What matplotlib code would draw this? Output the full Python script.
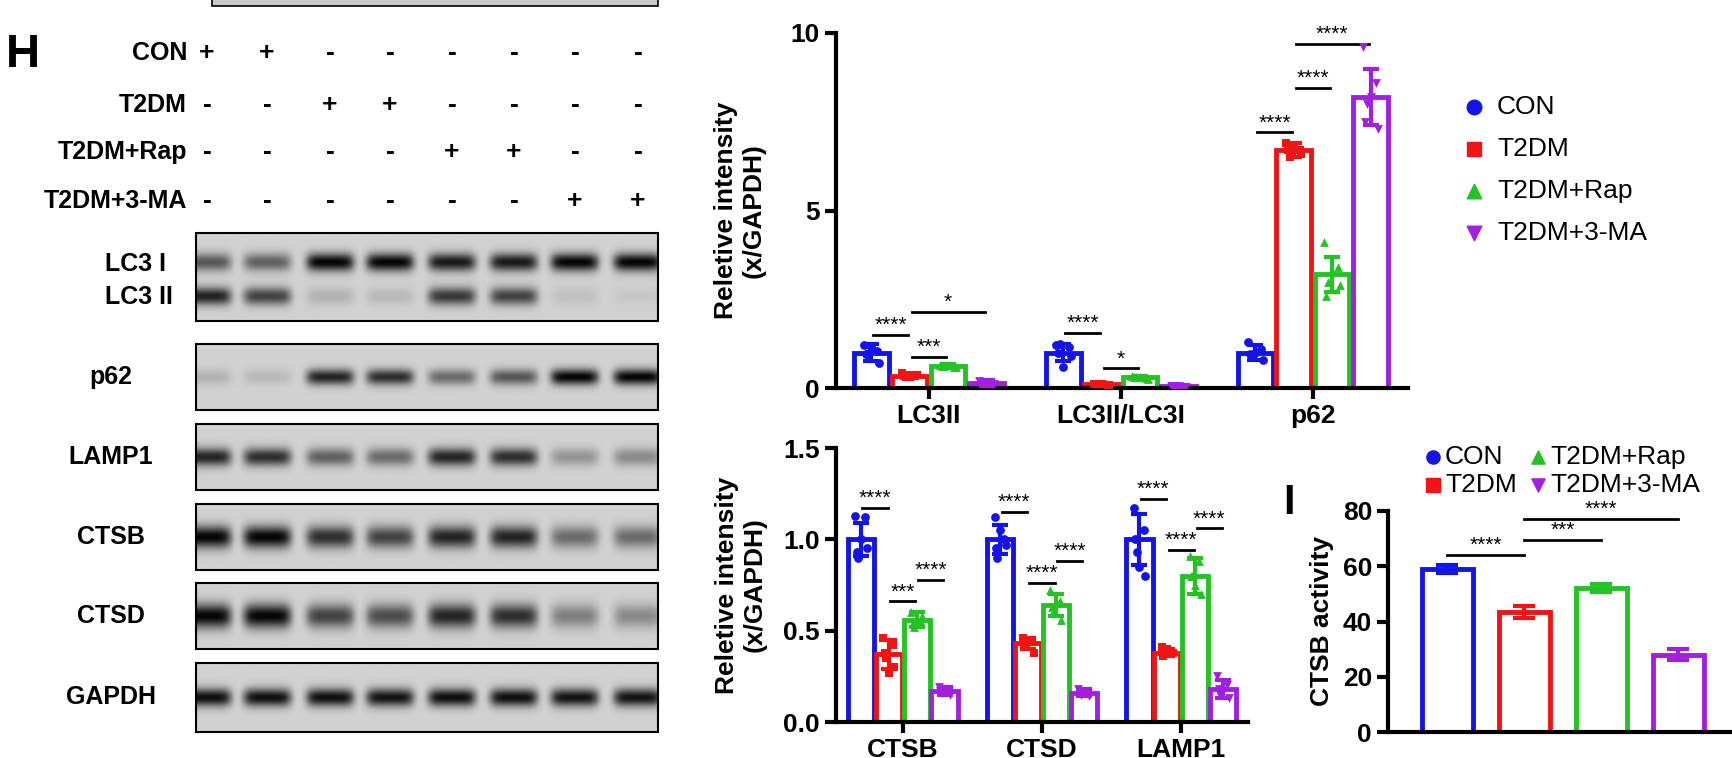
import numpy as np
import matplotlib
matplotlib.use("Agg")
import matplotlib.pyplot as plt
from matplotlib.patches import Rectangle

plt.rcParams['font.family'] = ['Liberation Sans', 'DejaVu Sans']
plt.rcParams['font.weight'] = 'bold'

groups = ['CON', 'T2DM', 'T2DM+Rap', 'T2DM+3-MA']
colors = ['#1414e6', '#f01414', '#22c322', '#a21fe0']
markers = ['o', 's', '^', 'v']

# panel H, top chart
top_cats = ['LC3II', 'LC3II/LC3I', 'p62']
top_mean = [[1.0, 0.35, 0.62, 0.15],
            [1.0, 0.10, 0.30, 0.05],
            [1.0, 6.70, 3.20, 8.20]]
top_err = [[0.25, 0.08, 0.05, 0.08],
           [0.25, 0.03, 0.05, 0.03],
           [0.22, 0.20, 0.50, 0.80]]
top_pts = [[[1.2, 1.05, 0.95, 0.7, 1.15, 0.95], [0.42, 0.35, 0.3, 0.38, 0.3, 0.33],
            [0.66, 0.6, 0.62, 0.58, 0.64, 0.63], [0.2, 0.12, 0.15, 0.1, 0.18, 0.14]],
           [[1.2, 1.15, 1.25, 0.9, 0.6, 1.0], [0.12, 0.09, 0.1, 0.08, 0.11, 0.1],
            [0.35, 0.28, 0.3, 0.25, 0.32, 0.3], [0.06, 0.04, 0.05, 0.03, 0.06, 0.05]],
           [[1.3, 1.1, 0.9, 0.8, 1.0, 0.95], [6.9, 6.7, 6.5, 6.6, 6.8, 6.7],
            [4.1, 3.4, 3.0, 2.9, 3.3, 2.6], [9.6, 8.6, 8.0, 7.3, 8.2, 7.5]]]
top_sig = [(0, 0, 1, 1.5, '****'), (0, 1, 2, 0.88, '***'), (0, 1, 3, 2.14, '*'),
           (1, 0, 1, 1.55, '****'), (1, 1, 2, 0.55, '*'),
           (2, 0, 1, 7.2, '****'), (2, 1, 2, 8.45, '****'), (2, 1, 3, 9.7, '****')]

# panel H, bottom chart
bot_cats = ['CTSB', 'CTSD', 'LAMP1']
bot_mean = [[1.0, 0.37, 0.56, 0.17],
            [1.0, 0.43, 0.64, 0.16],
            [1.0, 0.38, 0.80, 0.18]]
bot_err = [[0.09, 0.08, 0.04, 0.02],
           [0.08, 0.03, 0.06, 0.02],
           [0.14, 0.02, 0.10, 0.05]]
bot_pts = [[[1.13, 1.12, 0.9, 0.95, 1.0, 0.93], [0.46, 0.42, 0.35, 0.3, 0.27, 0.38],
            [0.6, 0.55, 0.52, 0.58, 0.56, 0.54], [0.19, 0.17, 0.16, 0.15, 0.18, 0.17]],
           [[1.12, 1.0, 0.9, 0.97, 1.05, 0.95], [0.46, 0.44, 0.42, 0.38, 0.45, 0.43],
            [0.72, 0.66, 0.6, 0.56, 0.65, 0.63], [0.18, 0.16, 0.15, 0.14, 0.17, 0.16]],
           [[1.17, 1.05, 0.93, 0.8, 0.85, 1.0], [0.41, 0.39, 0.37, 0.38, 0.4, 0.36],
            [0.91, 0.88, 0.8, 0.7, 0.75, 0.8], [0.25, 0.2, 0.15, 0.13, 0.17, 0.18]]]
bot_sig = [(0, 0, 1, 1.17, '****'), (0, 1, 2, 0.66, '***'), (0, 2, 3, 0.78, '****'),
           (1, 0, 1, 1.15, '****'), (1, 1, 2, 0.76, '****'), (1, 2, 3, 0.88, '****'),
           (2, 0, 1, 1.22, '****'), (2, 1, 2, 0.94, '****'), (2, 2, 3, 1.06, '****')]

# panel I
act_mean = [59.0, 43.5, 52.0, 28.0]
act_err = [1.5, 2.2, 1.5, 2.0]
act_sig = [(0, 1, 64, '****'), (1, 2, 69.5, '***'), (1, 3, 77, '****')]

# blot: treatment signs and band darkness per lane
sign_rows = ['CON', 'T2DM', 'T2DM+Rap', 'T2DM+3-MA']
signs = [['+', '+', '-', '-', '-', '-', '-', '-'],
         ['-', '-', '+', '+', '-', '-', '-', '-'],
         ['-', '-', '-', '-', '+', '+', '-', '-'],
         ['-', '-', '-', '-', '-', '-', '+', '+']]
lc3i = [0.6, 0.55, 1.0, 1.0, 0.9, 0.9, 1.0, 1.0]
lc3ii = [0.85, 0.7, 0.15, 0.12, 0.75, 0.7, 0.08, 0.05]
p62 = [0.15, 0.12, 0.85, 0.8, 0.5, 0.6, 1.0, 1.0]
lamp1 = [0.85, 0.8, 0.55, 0.5, 0.85, 0.8, 0.3, 0.35]
ctsb = [1.0, 1.0, 0.8, 0.7, 0.85, 0.85, 0.5, 0.5]
ctsd = [1.0, 1.0, 0.7, 0.65, 0.85, 0.8, 0.4, 0.35]
gapdh = [0.95, 0.95, 0.95, 0.93, 0.95, 0.95, 0.93, 0.93]

W, H = 1732, 758
fig = plt.figure(figsize=(W / 100, H / 100), dpi=100)

# ---- left blot panel drawn in pixel coordinates
axl = fig.add_axes([0, 0, 1, 1])
axl.set_xlim(0, W)
axl.set_ylim(H, 0)
axl.axis('off')

axl.add_patch(Rectangle((212, -4), 446, 10, facecolor='#c8c8c8', edgecolor='k', lw=1.2))
axl.text(6, 55, 'H', fontsize=34, fontweight='bold', va='center')
lane_x = [207, 267, 330, 390, 452, 514, 575, 638]
row_y = [53, 105, 152, 201]
for name, y, row in zip(sign_rows, row_y, signs):
    axl.text(187, y, name, fontsize=18, ha='right', va='center')
    for x, s in zip(lane_x, row):
        axl.text(x, y, s, fontsize=19, ha='center', va='center')

boxes = [((233, 321), [(lc3i, 0.33, 9), (lc3ii, 0.72, 9)], ['LC3 I', 'LC3 II'], [264, 297]),
         ((344, 410), [(p62, 0.5, 8)], ['p62'], [377]),
         ((424, 490), [(lamp1, 0.5, 9)], ['LAMP1'], [457]),
         ((504, 570), [(ctsb, 0.5, 11)], ['CTSB'], [537]),
         ((583, 649), [(ctsd, 0.5, 12)], ['CTSD'], [616]),
         ((663, 732), [(gapdh, 0.5, 9)], ['GAPDH'], [697])]
x0, x1 = 196, 658
xx = np.linspace(x0, x1, 400)
for (ya, yb), bands, labels, ly in boxes:
    yy = np.linspace(ya, yb, 120)
    X, Y = np.meshgrid(xx, yy)
    dark = np.zeros_like(X)
    for vals, frac, hh in bands:
        yc = ya + frac * (yb - ya)
        for lx, v in zip(lane_x, vals):
            dark += v * np.exp(-((X - lx) / 24) ** 6) * np.exp(-((Y - yc) / hh) ** 2)
    img = 0.82 - 0.8 * np.clip(dark, 0, 1)
    axl.imshow(img, cmap='gray', vmin=0, vmax=1, extent=(x0, x1, yb, ya), aspect='auto')
    axl.add_patch(Rectangle((x0, ya), x1 - x0, yb - ya, fill=False, edgecolor='k', lw=1.5))
    for lab, y in zip(labels, ly):
        if len(labels) > 1:
            axl.text(105, y, lab, fontsize=18, ha='left', va='center')
        else:
            axl.text(111, y, lab, fontsize=18, ha='center', va='center')

# legends drawn by hand in pixel coordinates
for g in range(4):
    y = 107 + 42 * g
    axl.scatter(1474, y, color=colors[g], marker=markers[g], s=110)
    axl.text(1497, y, groups[g], fontsize=19, fontweight='normal', va='center')
for g in range(4):
    xm = [1433, 1538][g // 2 if False else (0 if g in (0, 1) else 1)]
    y = [457, 485][g % 2]
    axl.scatter(xm, y, color=colors[g], marker=markers[g], s=90)
    axl.text(xm + 12, y, groups[g], fontsize=19, fontweight='normal', va='center')


def style(ax):
    for s in ['top', 'right']:
        ax.spines[s].set_visible(False)
    for s in ['left', 'bottom']:
        ax.spines[s].set_linewidth(3)
    ax.tick_params(width=3, length=8, labelsize=19)
    for t in ax.get_xticklabels() + ax.get_yticklabels():
        t.set_fontweight('bold')


offs = [-0.3, -0.1, 0.1, 0.3]
jit = [-0.04, 0.03, -0.02, 0.04, 0.0, -0.03]


def grouped(ax, means, errs, pts, sigs, bw, ms):
    for c in range(len(means)):
        for g in range(4):
            x = c + offs[g]
            ax.bar(x, means[c][g], bw, facecolor='white', edgecolor=colors[g], lw=3.5, zorder=2)
            ax.errorbar(x, means[c][g], yerr=errs[c][g], color=colors[g], capsize=6,
                        elinewidth=3, capthick=3, zorder=3)
            ax.scatter([x + j for j in jit], pts[c][g], color=colors[g], marker=markers[g],
                       s=ms, zorder=4, linewidths=0)
    for c, i, j, y, lab in sigs:
        xa, xb = c + offs[i] + 0.01, c + offs[j] - 0.01
        ax.plot([xa, xb], [y, y], color='k', lw=2, clip_on=False)
        ax.text((xa + xb) / 2, y, lab, ha='center', va='bottom', fontsize=15,
                fontweight='normal')


# ---- top chart
ax1 = fig.add_axes([836 / W, (H - 388) / H, 572 / W, 355 / H])
grouped(ax1, top_mean, top_err, top_pts, top_sig, 0.18, 40)
ax1.set_xlim(-0.484, 2.495)
ax1.set_ylim(0, 10)
ax1.set_yticks([0, 5, 10])
ax1.set_xticks(range(3))
ax1.set_xticklabels(top_cats)
ax1.set_ylabel('Reletive intensity\n(x/GAPDH)', fontsize=19, fontweight='bold', labelpad=18)
style(ax1)

# ---- bottom chart
ax2 = fig.add_axes([836 / W, (H - 722) / H, 412 / W, 274 / H])
grouped(ax2, bot_mean, bot_err, bot_pts, bot_sig, 0.19, 40)
ax2.set_xlim(-0.48, 2.48)
ax2.set_ylim(0, 1.5)
ax2.set_yticks([0, 0.5, 1.0, 1.5])
ax2.set_yticklabels(['0.0', '0.5', '1.0', '1.5'])
ax2.set_xticks(range(3))
ax2.set_xticklabels(bot_cats)
ax2.set_ylabel('Reletive intensity\n(x/GAPDH)', fontsize=19, fontweight='bold', labelpad=12)
style(ax2)

# ---- panel I
ax3 = fig.add_axes([1388 / W, (H - 732) / H, 344 / W, 221 / H])
xs = np.arange(4)
for g in range(4):
    ax3.bar(xs[g], act_mean[g], 0.66, facecolor='white', edgecolor=colors[g], lw=3.5, zorder=2)
    ax3.errorbar(xs[g], act_mean[g], yerr=act_err[g], color=colors[g], capsize=8,
                 elinewidth=3, capthick=3, zorder=3)
for i, j, y, lab in act_sig:
    ax3.plot([xs[i], xs[j]], [y, y], color='k', lw=2, clip_on=False)
    ax3.text((xs[i] + xs[j]) / 2, y, lab, ha='center', va='bottom', fontsize=15,
             fontweight='normal')
ax3.set_xlim(-0.77, 3.7)
ax3.set_ylim(0, 80)
ax3.set_yticks([0, 20, 40, 60, 80])
ax3.set_xticks([])
ax3.set_ylabel('CTSB activity', fontsize=19, fontweight='bold', labelpad=6)
style(ax3)
fig.text(1283 / W, 1 - 503 / H, 'I', fontsize=30, fontweight='bold', va='center')

fig.savefig('out.png', dpi=100)
